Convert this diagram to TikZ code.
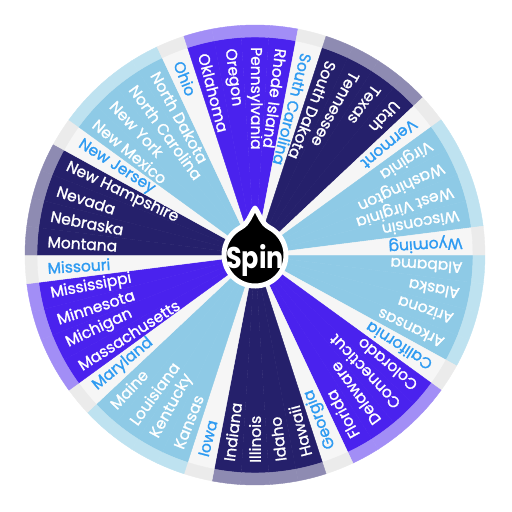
\documentclass[tikz,border=0pt]{standalone}
\usepackage{fontspec}
\setmainfont{Poppins}
\newfontfamily\labfont{Poppins}[FakeBold=1.3]
\definecolor{col0}{HTML}{8ECAE6}
\definecolor{rim0}{HTML}{BEE2F0}
\definecolor{col1}{HTML}{4A22EE}
\definecolor{rim1}{HTML}{A28EF6}
\definecolor{col2}{HTML}{25206B}
\definecolor{rim2}{HTML}{8E8BB2}
\definecolor{col3}{HTML}{F6F6F6}
\definecolor{rim3}{HTML}{EBEBEB}
\colorlet{txt0}{white}
\colorlet{txt1}{white}
\colorlet{txt2}{white}
\definecolor{txt3}{HTML}{2E9BF2}
\tikzset{
  lab/.style={font=\labfont\fontsize{15.5}{15.5}\selectfont, inner sep=0pt},
  spinlab/.style={font=\bfseries\fontsize{30}{30}\selectfont, text=white, inner sep=0pt}
}
\begin{document}
\begin{tikzpicture}[x=1pt,y=1pt]
\useasboundingbox (-255,-257) rectangle (257,255);
\foreach \nm [count=\k from 0] in {Alabama,Alaska,Arizona,Arkansas,California,Colorado,Connecticut,Delaware,Florida,Georgia,Hawaii,Idaho,Illinois,Indiana,Iowa,Kansas,Kentucky,Louisiana,Maine,Maryland,Massachusetts,Michigan,Minnesota,Mississippi,Missouri,Montana,Nebraska,Nevada,New Hampshire,New Jersey,New Mexico,New York,North Carolina,North Dakota,Ohio,Oklahoma,Oregon,Pennsylvania,Rhode Island,South Carolina,South Dakota,Tennessee,Texas,Utah,Vermont,Virginia,Washington,West Virginia,Wisconsin,Wyoming}{
  \pgfmathsetmacro\a{-3.6-7.2*\k}
  \pgfmathsetmacro\sa{\a-3.6}
  \pgfmathsetmacro\ea{\a+3.6}
  \pgfmathsetmacro\rot{\a+180}
  \pgfmathtruncatemacro\c{mod(\k,5)==4 ? 3 : mod(floor(\k/5),3)}
  \fill[col\c, draw=col\c, line width=0.4] (0,0) -- (\sa:218) arc[start angle=\sa, end angle=\ea, radius=218] -- cycle;
  \fill[rim\c, draw=rim\c, line width=0.4] (\sa:218) arc[start angle=\sa, end angle=\ea, radius=218] -- (\ea:230) arc[start angle=\ea, end angle=\sa, radius=230] -- cycle;
  \node[lab, text=txt\c, rotate=\rot, anchor=west] (s\k) at (\a:208) {\nm};
}
\draw[fill=black, draw=white, line width=5, line join=round] (0,47) to[out=-55,in=152] (62:31) arc[start angle=62, end angle=-242, radius=31] to[out=28,in=-125] (0,47) -- cycle;
\node[spinlab, anchor=base, xscale=0.85] (spin) at (0,-13) {Spin};
\end{tikzpicture}
\end{document}
